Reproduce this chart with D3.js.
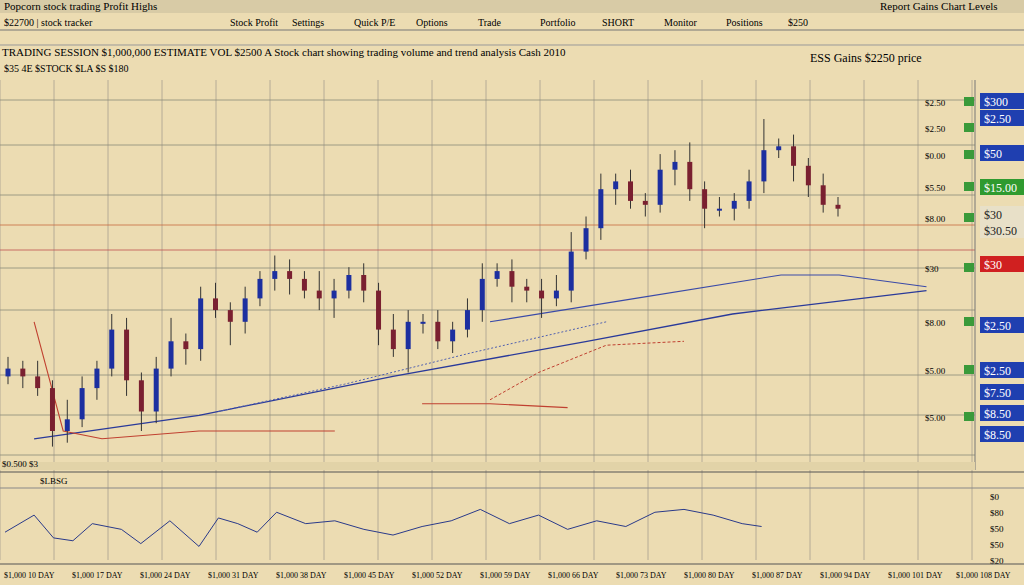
<!DOCTYPE html><html><head><meta charset="utf-8">
<script src="https://cdn.jsdelivr.net/npm/d3@7"></script>
<style>body{margin:0;background:#ecdcb2}svg{display:block;font-family:'Liberation Serif',serif}</style></head><body>
<svg id="c" width="1024" height="585"></svg>
<script>
const closes=[26,24,21,10,13,21,26,36,23,15,26,33,31,44,41,38,44,49,51,49,46,44,46,50,46,36,31,38,38,33,36,41,49,51,47,46,44,46,56,62,72,74,69,68,77,79,72,67,67,69,74,82,83,78,73,68,67];
const wickUp=[3,2,4,2,5,3,2,4,3,2,3,6,2,3,4,2,3,2,4,3,2,5,3,2,3,2,4,3,2,3,2,3,4,2,3,2,3,4,5,3,4,2,3,2,4,3,5,2,3,2,3,8,2,3,2,3,2];
const wickDn=[2,3,2,4,3,2,3,2,4,5,3,2,4,3,2,6,3,2,3,4,2,3,5,2,3,4,2,6,3,2,3,2,3,2,4,3,5,2,3,2,3,4,2,3,2,4,3,5,2,3,2,3,2,4,3,2,2];
const blueLine1=[[3,8],[20,14],[40,24],[60,33],[75,40],[95,46]];
const blueLine2=[[50,38],[65,44],[80,50],[86,50],[95,47]];
const blueDash=[[22,15],[35,22],[48,30],[62,38]];
const redLine=[[3,38],[6,10],[10,8],[20,10],[34,10]];
const redLine2=[[43,17],[50,17],[58,16]];
const redDash=[[50,18],[55,25],[62,32],[70,33]];
const oscTimes=[0,3,5,7,9,12,14,17,20,22,24,26,28,31,34,37,40,43,46,49,52,55,58,61,64,67,70,73,76,78];
const oscVals=[40,70,30,25,55,45,20,60,15,65,55,40,75,55,60,45,35,50,60,80,55,70,45,60,50,75,80,70,55,50];
const rightLabels=[["$300","#1f3fb0",101],["$2.50","#1f3fb0",118],["$50","#1f3fb0",153],["$15.00","#2f9a2f",187],["$30","#e8e0c8",214],["$30.50","#e8e0c8",230],["$30","#d02020",264],["$2.50","#1f3fb0",325],["$2.50","#1f3fb0",370],["$7.50","#1f3fb0",392],["$8.50","#1f3fb0",413],["$8.50","#1f3fb0",434]];
const midLabels=[["$2.50",102],["$2.50",128],["$0.00",155],["$5.50",187],["$8.00",218],["$30",268],["$8.00",322],["$5.00",370],["$5.00",417]];
const hLines=[[100,"#8a8a7a"],[145,"#8a8a7a"],[195,"#8a8a7a"],[225,"#c86a40"],[250,"#c05050"],[268,"#8a8a7a"],[310,"#8a8a7a"],[375,"#8a8a7a"],[415,"#8a8a7a"],[455,"#8a8a7a"]];
const svg=d3.select("#c");
const x=d3.scaleLinear().domain([0,100]).range([5,975]);
const y=d3.scaleLinear().domain([0,100]).range([470,80]);
const xc=d3.scaleLinear().domain([0,closes.length-1]).range([8,838]);
svg.append("rect").attr("width",1024).attr("height",13).attr("fill","#d8cba6");
svg.append("text").attr("x",4).attr("y",10).attr("font-size",11).text("Popcorn stock trading Profit Highs");
svg.append("text").attr("x",880).attr("y",10).attr("font-size",11).text("Report Gains Chart Levels");
svg.append("line").attr("x1",0).attr("x2",1024).attr("y1",30).attr("y2",30).attr("stroke","#777");
const t2=["Stock Profit","Settings","Quick P/E","Options","Trade","Portfolio","SHORT","Monitor","Positions","$250"];
t2.forEach((t,i)=>svg.append("text").attr("x",230+i*62).attr("y",26).attr("font-size",10).text(t));
svg.append("text").attr("x",4).attr("y",26).attr("font-size",10).text("$22700 | stock tracker");
svg.append("line").attr("x1",0).attr("x2",1024).attr("y1",45).attr("y2",45).attr("stroke","#999");
svg.append("text").attr("x",2).attr("y",56).attr("font-size",11).text("TRADING SESSION  $1,000,000  ESTIMATE VOL $2500  A Stock chart showing trading volume and trend analysis Cash 2010");
svg.append("text").attr("x",4).attr("y",72).attr("font-size",10).text("$35  4E  $STOCK      $LA $S $180");
svg.append("text").attr("x",810).attr("y",62).attr("font-size",12).text("ESS Gains $2250 price");
d3.range(0,1024,54).forEach(v=>svg.append("line").attr("x1",v).attr("x2",v).attr("y1",80).attr("y2",560).attr("stroke","#a8a090").attr("stroke-width",0.8));
hLines.forEach(([v,c])=>svg.append("line").attr("x1",0).attr("x2",975).attr("y1",v).attr("y2",v).attr("stroke",c).attr("stroke-width",0.8));
svg.append("line").attr("x1",975).attr("x2",975).attr("y1",80).attr("y2",470).attr("stroke","#777");
const ln=d3.line().x(d=>x(d[0])).y(d=>y(d[1]));
svg.append("path").attr("d",ln(blueLine1)).attr("fill","none").attr("stroke","#2a3a9a").attr("stroke-width",1.3);
svg.append("path").attr("d",ln(blueLine2)).attr("fill","none").attr("stroke","#3a4aa8").attr("stroke-width",1.1);
svg.append("path").attr("d",ln(blueDash)).attr("fill","none").attr("stroke","#5060b0").attr("stroke-dasharray","2,2");
svg.append("path").attr("d",ln(redLine)).attr("fill","none").attr("stroke","#c04030").attr("stroke-width",1.1);
svg.append("path").attr("d",ln(redLine2)).attr("fill","none").attr("stroke","#c04030").attr("stroke-width",1.1);
svg.append("path").attr("d",ln(redDash)).attr("fill","none").attr("stroke","#c04030").attr("stroke-dasharray","3,2");
closes.forEach((c,i)=>{const o=i?closes[i-1]:c-2;const up=c>=o;const col=up?"#1c2fa0":"#7a2030";const cx=xc(i);
svg.append("line").attr("x1",cx).attr("x2",cx).attr("y1",y(Math.max(o,c)+wickUp[i])).attr("y2",y(Math.min(o,c)-wickDn[i])).attr("stroke","#333");
svg.append("rect").attr("x",cx-2.5).attr("width",5).attr("y",y(Math.max(o,c))).attr("height",Math.max(2,Math.abs(y(o)-y(c)))).attr("fill",col);});
midLabels.forEach(([t,v])=>{svg.append("text").attr("x",925).attr("y",v+4).attr("font-size",9).text(t);svg.append("rect").attr("x",964).attr("y",v-5).attr("width",10).attr("height",9).attr("fill","#3a9a3a");});
rightLabels.forEach(([t,c,v])=>{svg.append("rect").attr("x",980).attr("y",v-8).attr("width",44).attr("height",16).attr("fill",c);svg.append("text").attr("x",984).attr("y",v+5).attr("font-size",12).attr("fill",c=="#e8e0c8"?"#222":"#fff").text(t);});
svg.append("rect").attr("x",0).attr("y",462).attr("width",975).attr("height",8).attr("fill","#e2d3a8");
svg.append("line").attr("x1",0).attr("x2",1024).attr("y1",472).attr("y2",472).attr("stroke","#555");
svg.append("text").attr("x",2).attr("y",467).attr("font-size",9).text("$0.500 $3");
svg.append("text").attr("x",40).attr("y",484).attr("font-size",9).text("$LBSG");
svg.append("line").attr("x1",0).attr("x2",1024).attr("y1",488).attr("y2",488).attr("stroke","#888");
const yo=d3.scaleLinear().domain([0,100]).range([555,498]);
svg.append("path").attr("d",d3.line().x(d=>x(d[0])).y(d=>yo(d[1]))(oscTimes.map((t,i)=>[t,oscVals[i]]))).attr("fill","none").attr("stroke","#2a3a8a");
["$0","$80","$50","$50","$20"].forEach((t,i)=>svg.append("text").attr("x",990).attr("y",500+i*16).attr("font-size",9).text(t));
svg.append("line").attr("x1",0).attr("x2",1024).attr("y1",564).attr("y2",564).attr("stroke","#555");
d3.range(0,15).forEach(i=>svg.append("text").attr("x",4+i*68).attr("y",578).attr("font-size",8).text("$1,000 "+(i*7+10)+" DAY"));
</script></body></html>
